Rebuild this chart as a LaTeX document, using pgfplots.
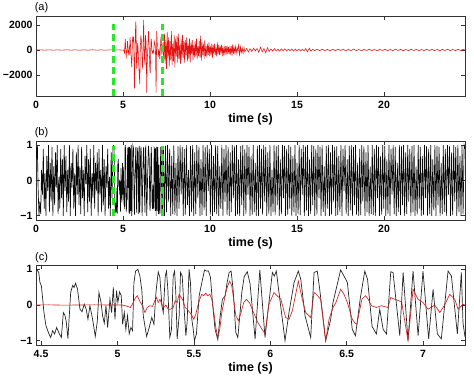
\documentclass[border=0pt]{standalone}
\usepackage{fontspec}
\setmainfont{Liberation Sans}
\usepackage{pgfplots}
\pgfplotsset{compat=1.18}
\usepackage{pgfplotstable}
\definecolor{sigred}{RGB}{228,20,20}
\definecolor{cred}{RGB}{205,35,35}
\definecolor{dgreen}{RGB}{40,230,40}
\definecolor{sigblk}{RGB}{10,10,10}

% panel (a): seismic record
\pgfplotstableread[row sep=\\]{t a\\
0 0\\ 0.25 12\\ 0.5 -10\\ 0.75 15\\ 1.0 -12\\ 1.25 10\\ 1.5 -15\\ 1.75 18\\ 2.0 -10\\ 2.25 12\\ 2.5 -18\\ 2.75 15\\ 3.0 -12\\ 3.25 20\\ 3.5 -15\\ 3.75 10\\ 4.0 -18\\ 4.25 15\\ 4.5 -10\\ 4.75 12\\ 5.0 -15\\ 5.03 0\\
5.06 -100\\ 5.085 -240\\ 5.10 140\\ 5.115 610\\ 5.13 880\\ 5.147 340\\ 5.164 -70\\ 5.180 -710\\ 5.195 -240\\ 5.212 -70\\ 5.230 -140\\ 5.245 410\\ 5.256 710\\ 5.267 240\\ 5.278 540\\ 5.291 70\\ 5.304 -240\\ 5.317 0\\ 5.332 -410\\ 5.347 -410\\ 5.365 -240\\ 5.378 410\\ 5.391 240\\ 5.404 1020\\ 5.417 710\\ 5.430 410\\ 5.443 -240\\ 5.456 -410\\ 5.474 -710\\ 5.487 -1020\\ 5.500 -1360\\ 5.513 -880\\ 5.526 -70\\ 5.539 540\\ 5.552 1020\\ 5.565 880\\ 5.578 1120\\ 5.591 880\\ 5.605 1020\\ 5.618 540\\ 5.631 -710\\ 5.644 -2140\\ 5.657 -3090\\ 5.670 -2310\\ 5.683 -710\\ 5.696 240\\ 5.709 1190\\ 5.722 1840\\ 5.735 2280\\ 5.748 1840\\ 5.761 540\\ 5.775 -1020\\ 5.792 -1500\\ 5.809 -710\\ 5.827 240\\ 5.844 540\\ 5.866 170\\ 5.885 -510\\ 5.92 -1700\\ 5.966 -2750\\ 5.99 0\\ 6.025 1190\\ 6.045 880\\ 6.07 540\\ 6.101 -1190\\ 6.123 -1360\\ 6.145 -540\\ 6.184 2380\\ 6.210 540\\ 6.232 -710\\ 6.265 -1190\\ 6.287 1190\\ 6.302 1020\\ 6.330 540\\ 6.363 -3400\\ 6.385 -1360\\ 6.411 -240\\ 6.430 240\\ 6.461 1500\\ 6.483 1020\\ 6.505 240\\ 6.537 -1360\\ 6.553 -1700\\ 6.567 -1840\\ 6.600 540\\ 6.624 880\\ 6.641 540\\ 6.663 -70\\ 6.695 -240\\ 6.728 -70\\ 6.770 -240\\ 6.789 710\\ 6.815 540\\ 6.860 310\\ 6.902 -3400\\ 6.935 1500\\ 6.968 540\\ 7.00 240\\ 7.033 -410\\ 7.077 0\\ 7.110 -710\\ 7.142 0\\ 7.175 1020\\ 7.208 540\\ 7.230 -410\\ 7.262 70\\ 7.275 0\\
7.30 600\\ 7.34 -900\\ 7.38 1300\\ 7.42 -1100\\ 7.46 800\\ 7.50 -1500\\ 7.54 1400\\ 7.58 -600\\ 7.62 1000\\ 7.66 -1300\\ 7.70 700\\ 7.74 -800\\ 7.78 1500\\ 7.82 -1200\\ 7.86 500\\ 7.90 -900\\ 7.94 1200\\ 7.98 -1400\\ 8.02 900\\ 8.06 -500\\ 8.10 1100\\ 8.14 -1000\\ 8.18 1300\\ 8.22 -700\\ 8.26 400\\ 8.30 -1100\\ 8.34 900\\ 8.38 -800\\ 8.42 1200\\ 8.46 -600\\ 8.50 700\\ 8.54 -1000\\ 8.58 800\\ 8.62 -400\\ 8.66 1000\\ 8.70 -900\\ 8.74 500\\ 8.78 -700\\ 8.82 900\\ 8.86 -1000\\ 8.90 600\\ 8.94 -300\\ 8.98 800\\ 9.02 -800\\ 9.06 400\\ 9.10 -600\\ 9.14 700\\ 9.18 -500\\ 9.22 900\\ 9.26 -700\\ 9.30 300\\ 9.34 -500\\ 9.38 700\\ 9.42 -600\\ 9.46 1150\\ 9.50 -850\\ 9.54 600\\ 9.58 -400\\ 9.62 500\\ 9.66 -700\\ 9.70 800\\ 9.74 -500\\ 9.78 300\\ 9.82 -600\\ 9.86 500\\ 9.90 -400\\ 9.94 600\\ 9.98 -500\\ 10.02 300\\ 10.06 -400\\ 10.10 500\\ 10.14 -600\\ 10.18 400\\ 10.22 -300\\ 10.26 500\\ 10.30 -400\\ 10.34 200\\ 10.38 -500\\ 10.42 600\\ 10.46 -300\\ 10.50 400\\ 10.54 -400\\ 10.58 300\\ 10.62 -200\\ 10.66 400\\ 10.70 -500\\ 10.74 300\\ 10.78 -300\\ 10.82 200\\ 10.86 -400\\ 10.90 300\\ 10.94 -200\\ 10.98 350\\ 11.02 -300\\ 11.06 250\\ 11.10 -350\\ 11.14 200\\ 11.18 -250\\ 11.22 300\\ 11.26 -450\\ 11.30 450\\ 11.34 -300\\ 11.38 200\\ 11.42 -200\\ 11.46 250\\ 11.50 -300\\ 11.55 200\\ 11.60 -150\\ 11.65 500\\ 11.70 -500\\ 11.75 250\\ 11.80 -200\\ 11.85 150\\ 11.90 -250\\ 11.95 200\\ 12.00 -150\\
12.1 120\\ 12.2 -160\\ 12.3 100\\ 12.4 -120\\ 12.5 150\\ 12.6 -80\\ 12.7 120\\ 12.8 -180\\ 12.9 220\\ 13.0 -150\\ 13.1 110\\ 13.2 -230\\ 13.3 180\\ 13.4 -110\\ 13.5 80\\ 13.6 -90\\ 13.7 110\\ 13.8 -80\\ 13.9 60\\ 14.0 -90\\ 14.1 80\\ 14.2 -60\\ 14.3 90\\ 14.4 -80\\ 14.5 60\\ 14.6 -50\\ 14.7 80\\ 14.8 -90\\ 14.9 70\\ 15.0 -60\\ 15.1 60\\ 15.2 -80\\ 15.3 50\\ 15.4 -70\\ 15.5 120\\ 15.6 -150\\ 15.7 140\\ 15.8 -90\\ 15.9 60\\ 16.0 -50\\
16.15 60\\ 16.3 -50\\ 16.45 70\\ 16.6 -60\\ 16.75 50\\ 16.9 -80\\ 17.05 60\\ 17.2 -50\\ 17.35 70\\ 17.5 -40\\ 17.65 60\\ 17.8 -70\\ 17.95 50\\ 18.1 -60\\ 18.25 80\\ 18.4 -50\\ 18.55 40\\ 18.7 -60\\ 18.85 50\\ 19.0 -40\\ 19.15 60\\ 19.3 -50\\ 19.45 40\\ 19.6 -70\\ 19.75 50\\ 19.9 -40\\ 20.05 60\\ 20.2 -50\\ 20.35 40\\ 20.5 -60\\ 20.65 70\\ 20.8 -40\\ 20.95 50\\ 21.1 -60\\ 21.25 40\\ 21.4 -50\\ 21.55 60\\ 21.7 -40\\ 21.85 50\\ 22.0 -60\\ 22.15 40\\ 22.3 -50\\ 22.45 60\\ 22.6 -40\\ 22.75 50\\ 22.9 -50\\ 23.05 40\\ 23.2 -60\\ 23.35 50\\ 23.5 -40\\ 23.65 60\\ 23.8 -50\\ 23.95 40\\ 24.1 -50\\ 24.25 60\\ 24.4 -40\\ 24.55 50\\ 24.65 0\\
}\tabA

% panel (b): before the window
\pgfplotstableread[row sep=\\]{t v\\
0 0.95\\ 0.04 0.6\\ 0.08 1.0\\ 0.12 -0.2\\ 0.17 -1.0\\ 0.22 -0.6\\ 0.27 -0.95\\ 0.32 0.3\\ 0.37 -0.4\\ 0.42 0.9\\ 0.47 -0.8\\ 0.52 0.2\\ 0.57 -1.0\\ 0.62 0.7\\ 0.67 -0.3\\ 0.72 1.0\\ 0.77 -0.9\\ 0.82 0.5\\ 0.87 -0.6\\ 0.92 0.95\\ 0.97 -1.0\\ 1.02 0.4\\ 1.07 -0.7\\ 1.12 0.8\\ 1.17 -0.2\\ 1.22 1.0\\ 1.27 -0.95\\ 1.32 0.1\\ 1.37 -0.8\\ 1.42 0.9\\ 1.47 -0.5\\ 1.52 0.6\\ 1.57 -1.0\\ 1.62 1.0\\ 1.67 -0.3\\ 1.72 0.7\\ 1.77 -0.9\\ 1.82 0.3\\ 1.87 -0.6\\ 1.92 1.0\\ 1.97 -1.0\\ 2.02 0.5\\ 2.07 -0.2\\ 2.12 0.9\\ 2.17 -0.8\\ 2.22 0.2\\ 2.27 -1.0\\ 2.32 0.8\\ 2.37 -0.4\\ 2.42 1.0\\ 2.47 -0.7\\ 2.52 0.4\\ 2.57 -0.95\\ 2.62 0.95\\ 2.67 -0.5\\ 2.72 0.3\\ 2.77 -1.0\\ 2.82 0.7\\ 2.87 -0.1\\ 2.92 1.0\\ 2.97 -0.9\\ 3.02 0.6\\ 3.07 -0.6\\ 3.12 0.9\\ 3.17 -1.0\\ 3.22 0.2\\ 3.27 -0.5\\ 3.32 1.0\\ 3.37 -0.8\\ 3.42 0.5\\ 3.47 -0.3\\ 3.52 0.8\\ 3.57 -1.0\\ 3.62 0.9\\ 3.67 -0.4\\ 3.72 0.3\\ 3.77 -0.9\\ 3.82 1.0\\ 3.87 -0.7\\ 3.92 0.6\\ 3.97 -1.0\\ 4.02 0.4\\ 4.07 -0.2\\ 4.12 0.9\\ 4.17 -0.8\\ 4.22 0.1\\ 4.27 -1.0\\ 4.32 0.8\\ 4.37 -0.5\\ 4.42 0.9\\ 4.467 1.0\\
}\tabBpre

% panel (c) black = panel (b) inside the window
\pgfplotstableread[row sep=\\]{t v\\
4.467 1.0\\ 4.471 1.0\\ 4.485 0.91\\ 4.493 0.63\\ 4.502 0.54\\ 4.511 0.16\\ 4.519 -0.21\\ 4.532 -0.58\\ 4.550 -0.79\\ 4.563 -0.91\\ 4.576 -0.72\\ 4.589 -0.81\\ 4.602 -0.63\\ 4.620 -0.81\\ 4.633 -0.91\\ 4.646 -0.21\\ 4.657 -0.30\\ 4.665 -0.47\\ 4.676 -0.94\\ 4.694 0.35\\ 4.707 0.55\\ 4.716 0.49\\ 4.726 0.61\\ 4.739 0.44\\ 4.755 -0.12\\ 4.768 -0.19\\ 4.783 0.02\\ 4.796 -0.12\\ 4.807 -0.40\\ 4.820 -0.02\\ 4.838 -0.41\\ 4.855 -0.88\\ 4.868 -0.47\\ 4.879 0.35\\ 4.892 0.09\\ 4.903 -0.30\\ 4.914 -0.51\\ 4.925 -0.02\\ 4.936 -0.63\\ 4.951 0.16\\ 4.962 -0.21\\ 4.973 0.49\\ 4.984 -0.40\\ 4.994 0.40\\ 5.003 0.07\\ 5.014 0.37\\ 5.025 0.26\\ 5.034 -0.54\\ 5.045 -0.21\\ 5.055 -0.68\\ 5.066 -0.30\\ 5.077 -0.81\\ 5.088 -0.63\\ 5.099 -0.72\\ 5.108 0.63\\ 5.119 0.95\\ 5.134 1.00\\ 5.147 0.81\\ 5.160 0.40\\ 5.169 -0.30\\ 5.191 -0.88\\ 5.208 -0.63\\ 5.225 -0.35\\ 5.239 -0.54\\ 5.252 0.35\\ 5.267 0.93\\ 5.278 0.77\\ 5.291 -0.02\\ 5.300 -0.21\\ 5.313 0.81\\ 5.321 0.95\\ 5.330 0.44\\ 5.343 -0.91\\ 5.354 -0.68\\ 5.365 0.81\\ 5.374 0.95\\ 5.382 0.35\\ 5.391 -0.95\\ 5.404 -0.30\\ 5.413 0.91\\ 5.424 0.81\\ 5.435 -0.02\\ 5.448 -0.86\\ 5.456 -0.49\\ 5.469 1.0\\ 5.478 0.63\\ 5.487 -0.40\\ 5.496 -0.68\\ 5.504 -1.0\\ 5.517 -0.81\\ 5.535 0.26\\ 5.557 0.72\\ 5.570 0.98\\ 5.583 0.95\\ 5.596 0.95\\ 5.609 0.77\\ 5.622 0.07\\ 5.639 -0.68\\ 5.657 -0.97\\ 5.670 -0.40\\ 5.687 0.16\\ 5.705 0.26\\ 5.718 0.63\\ 5.731 0.91\\ 5.744 0.95\\ 5.757 0.44\\ 5.775 -0.77\\ 5.788 -0.91\\ 5.801 -0.30\\ 5.814 0.35\\ 5.830 0.80\\ 5.850 0.93\\ 5.868 0.60\\ 5.901 -0.95\\ 5.932 0.98\\ 5.966 -0.91\\ 6.014 0.91\\ 6.027 0.81\\ 6.040 0.95\\ 6.097 -1.0\\ 6.123 -0.21\\ 6.156 0.63\\ 6.184 0.95\\ 6.200 0.72\\ 6.228 -0.30\\ 6.265 -0.91\\ 6.287 0.91\\ 6.308 0.95\\ 6.324 0.44\\ 6.363 -1.0\\ 6.396 -0.40\\ 6.411 0.07\\ 6.461 0.98\\ 6.483 0.81\\ 6.505 0.63\\ 6.537 -0.68\\ 6.558 -0.86\\ 6.590 0.2\\ 6.619 0.95\\ 6.637 0.72\\ 6.667 -0.6\\ 6.695 -0.81\\ 6.717 -0.12\\ 6.739 -0.68\\ 6.761 -0.81\\ 6.789 0.93\\ 6.804 0.91\\ 6.848 -0.86\\ 6.870 0.91\\ 6.902 -1.0\\ 6.935 0.95\\ 6.968 -0.86\\ 7.000 0.95\\ 7.037 -0.95\\ 7.066 0.44\\ 7.094 -0.81\\ 7.120 -0.95\\ 7.164 0.95\\ 7.186 0.81\\ 7.225 -0.81\\ 7.251 0.91\\ 7.262 -0.5\\ 7.275 -0.9\\
}\tabC

% panel (b): after the window
\pgfplotstableread[row sep=\\]{t v\\
7.275 -0.9\\ 7.32 0.95\\ 7.38 -1.0\\ 7.44 0.98\\ 7.50 -0.9\\ 7.56 1.0\\ 7.62 -0.6\\ 7.68 0.9\\ 7.74 -1.0\\ 7.80 0.7\\ 7.86 -0.95\\
7.92 1.0\\ 7.98 -0.98\\ 8.04 0.5\\ 8.10 -1.0\\ 8.16 0.97\\ 8.22 -0.8\\ 8.28 1.0\\ 8.34 -0.4\\ 8.40 0.95\\ 8.46 -1.0\\
8.52 0.9\\ 8.58 -0.97\\ 8.64 1.0\\ 8.70 -0.7\\ 8.76 0.3\\ 8.82 -1.0\\ 8.88 0.98\\ 8.94 -0.9\\ 9.00 1.0\\ 9.06 -1.0\\
9.12 0.8\\ 9.18 -0.95\\ 9.24 1.0\\ 9.30 -0.5\\ 9.36 0.96\\ 9.42 -1.0\\ 9.48 0.6\\ 9.54 -0.98\\ 9.60 1.0\\ 9.66 -0.85\\
9.72 0.95\\ 9.78 -1.0\\ 9.84 1.0\\ 9.90 -0.3\\ 9.96 0.9\\ 10.02 -0.97\\ 10.08 1.0\\ 10.14 -1.0\\ 10.20 0.7\\ 10.26 -0.9\\
10.32 1.0\\ 10.38 -0.95\\ 10.44 0.98\\ 10.50 -1.0\\ 10.56 0.4\\ 10.62 -0.8\\ 10.68 1.0\\ 10.74 -1.0\\ 10.80 0.9\\ 10.86 -0.6\\
10.92 1.0\\ 10.98 -0.98\\ 11.04 0.95\\ 11.10 -1.0\\ 11.16 0.8\\ 11.22 -0.9\\ 11.28 1.0\\ 11.34 -0.5\\ 11.40 0.97\\ 11.46 -1.0\\
11.52 1.0\\ 11.58 -0.96\\ 11.64 0.6\\ 11.70 -1.0\\ 11.76 0.98\\ 11.82 -0.7\\ 11.88 1.0\\ 11.94 -1.0\\ 12.00 0.9\\ 12.06 -0.95\\
12.12 1.0\\ 12.18 -0.4\\ 12.24 0.95\\ 12.30 -1.0\\ 12.36 0.7\\ 12.42 -0.98\\ 12.48 1.0\\ 12.54 -0.9\\ 12.60 0.5\\ 12.66 -1.0\\
12.72 0.98\\ 12.78 -1.0\\ 12.84 1.0\\ 12.90 -0.8\\ 12.96 0.9\\ 13.02 -0.97\\ 13.08 1.0\\ 13.14 -0.6\\ 13.20 0.95\\ 13.26 -1.0\\
13.32 0.8\\ 13.38 -0.95\\ 13.44 1.0\\ 13.50 -1.0\\ 13.56 0.3\\ 13.62 -0.9\\ 13.68 1.0\\ 13.74 -0.98\\ 13.80 0.97\\ 13.86 -0.7\\
13.92 1.0\\ 13.98 -1.0\\ 14.04 0.6\\ 14.10 -0.95\\ 14.16 1.0\\ 14.22 -0.5\\ 14.28 0.98\\ 14.34 -1.0\\ 14.40 0.9\\ 14.46 -0.97\\
14.52 1.0\\ 14.58 -0.8\\ 14.64 0.95\\ 14.70 -1.0\\ 14.76 0.7\\ 14.82 -0.9\\ 14.88 1.0\\ 14.94 -1.0\\ 15.00 0.5\\ 15.06 -0.96\\
15.12 1.0\\ 15.18 -0.98\\ 15.24 0.9\\ 15.30 -0.4\\ 15.36 1.0\\ 15.42 -1.0\\ 15.48 0.97\\ 15.54 -0.85\\ 15.60 1.0\\ 15.66 -1.0\\
15.72 0.6\\ 15.78 -0.95\\ 15.84 1.0\\ 15.90 -0.7\\ 15.96 0.98\\ 16.02 -1.0\\ 16.08 0.9\\ 16.14 -0.97\\ 16.20 1.0\\ 16.26 -0.5\\
16.32 0.95\\ 16.38 -1.0\\ 16.44 1.0\\ 16.50 -0.9\\ 16.56 0.4\\ 16.62 -1.0\\ 16.68 0.98\\ 16.74 -0.8\\ 16.80 1.0\\ 16.86 -1.0\\
16.92 0.8\\ 16.98 -0.96\\ 17.04 1.0\\ 17.10 -0.6\\ 17.16 0.95\\ 17.22 -1.0\\ 17.28 0.97\\ 17.34 -0.98\\ 17.40 0.7\\ 17.46 -0.9\\
17.52 1.0\\ 17.58 -1.0\\ 17.64 0.9\\ 17.70 -0.3\\ 17.76 1.0\\ 17.82 -0.95\\ 17.88 0.6\\ 17.94 -1.0\\ 18.00 0.98\\ 18.06 -0.85\\
18.12 1.0\\ 18.18 -1.0\\ 18.24 0.95\\ 18.30 -0.7\\ 18.36 1.0\\ 18.42 -0.97\\ 18.48 0.5\\ 18.54 -1.0\\ 18.60 0.9\\ 18.66 -0.98\\
18.72 1.0\\ 18.78 -0.6\\ 18.84 0.97\\ 18.90 -1.0\\ 18.96 0.8\\ 19.02 -0.9\\ 19.08 1.0\\ 19.14 -1.0\\ 19.20 0.4\\ 19.26 -0.95\\
19.32 1.0\\ 19.38 -0.98\\ 19.44 0.9\\ 19.50 -1.0\\ 19.56 1.0\\ 19.62 -0.5\\ 19.68 0.95\\ 19.74 -1.0\\ 19.80 0.7\\ 19.86 -0.97\\
19.92 1.0\\ 19.98 -0.8\\ 20.04 0.98\\ 20.10 -1.0\\ 20.16 0.6\\ 20.22 -0.95\\ 20.28 1.0\\ 20.34 -1.0\\ 20.40 0.9\\ 20.46 -0.4\\
20.52 1.0\\ 20.58 -0.96\\ 20.64 0.95\\ 20.70 -1.0\\ 20.76 0.5\\ 20.82 -0.9\\ 20.88 1.0\\ 20.94 -0.98\\ 21.00 0.97\\ 21.06 -0.7\\
21.12 1.0\\ 21.18 -1.0\\ 21.24 0.8\\ 21.30 -0.95\\ 21.36 1.0\\ 21.42 -0.6\\ 21.48 0.9\\ 21.54 -1.0\\ 21.60 0.98\\ 21.66 -0.9\\
21.72 1.0\\ 21.78 -1.0\\ 21.84 0.4\\ 21.90 -0.97\\ 21.96 1.0\\ 22.02 -0.8\\ 22.08 0.95\\ 22.14 -1.0\\ 22.20 0.7\\ 22.26 -0.98\\
22.32 1.0\\ 22.38 -0.5\\ 22.44 0.97\\ 22.50 -1.0\\ 22.56 0.9\\ 22.62 -0.95\\ 22.68 1.0\\ 22.74 -1.0\\ 22.80 0.6\\ 22.86 -0.85\\
22.92 1.0\\ 22.98 -1.0\\ 23.04 0.98\\ 23.10 -0.7\\ 23.16 0.95\\ 23.22 -1.0\\ 23.28 0.5\\ 23.34 -0.96\\ 23.40 1.0\\ 23.46 -0.9\\
23.52 0.9\\ 23.58 -1.0\\ 23.64 1.0\\ 23.70 -0.4\\ 23.76 0.97\\ 23.82 -1.0\\ 23.88 0.8\\ 23.94 -0.98\\ 24.00 1.0\\ 24.06 -0.6\\
24.12 0.95\\ 24.18 -1.0\\ 24.24 1.0\\ 24.30 -0.9\\ 24.36 0.7\\ 24.42 -1.0\\ 24.48 0.98\\ 24.54 -0.95\\ 24.60 1.0\\ 24.65 0.9\\
}\tabBpost

% panel (c) red: normalised record in the window
\pgfplotstableread[row sep=\\]{t v\\
4.467 0.0\\ 4.55 0.005\\ 4.65 -0.005\\ 4.75 0.0\\ 4.85 0.005\\ 4.95 0.0\\ 5.03 0.0\\ 5.06 -0.03\\ 5.085 -0.07\\ 5.10 0.04\\ 5.115 0.18\\ 5.13 0.26\\ 5.147 0.10\\ 5.164 -0.02\\ 5.180 -0.21\\ 5.195 -0.07\\ 5.212 -0.02\\ 5.230 -0.04\\ 5.245 0.12\\ 5.256 0.21\\ 5.267 0.07\\ 5.278 0.16\\ 5.291 0.02\\ 5.304 -0.07\\ 5.317 0.0\\ 5.332 -0.12\\ 5.347 -0.12\\ 5.365 -0.07\\ 5.378 0.12\\ 5.391 0.07\\ 5.404 0.30\\ 5.417 0.21\\ 5.430 0.12\\ 5.443 -0.07\\ 5.456 -0.12\\ 5.474 -0.21\\ 5.487 -0.30\\ 5.500 -0.40\\ 5.513 -0.26\\ 5.526 -0.02\\ 5.539 0.16\\ 5.552 0.30\\ 5.565 0.26\\ 5.578 0.33\\ 5.591 0.26\\ 5.605 0.30\\ 5.618 0.16\\ 5.631 -0.21\\ 5.644 -0.63\\ 5.657 -0.91\\ 5.670 -0.68\\ 5.683 -0.21\\ 5.696 0.07\\ 5.709 0.35\\ 5.722 0.54\\ 5.735 0.67\\ 5.748 0.54\\ 5.761 0.16\\ 5.775 -0.30\\ 5.792 -0.44\\ 5.809 -0.21\\ 5.827 0.07\\ 5.844 0.16\\ 5.866 0.05\\ 5.885 -0.15\\ 5.92 -0.5\\ 5.966 -0.81\\ 5.99 0.0\\ 6.025 0.35\\ 6.045 0.26\\ 6.07 0.16\\ 6.101 -0.35\\ 6.123 -0.40\\ 6.145 -0.16\\ 6.184 0.67\\ 6.210 0.16\\ 6.232 -0.21\\ 6.265 -0.35\\ 6.287 0.35\\ 6.302 0.30\\ 6.330 0.16\\ 6.363 -1.0\\ 6.385 -0.40\\ 6.411 -0.07\\ 6.430 0.07\\ 6.461 0.44\\ 6.483 0.30\\ 6.505 0.07\\ 6.537 -0.40\\ 6.553 -0.50\\ 6.567 -0.54\\ 6.600 0.16\\ 6.624 0.26\\ 6.641 0.16\\ 6.663 -0.02\\ 6.695 -0.07\\ 6.728 -0.02\\ 6.770 -0.07\\ 6.789 0.21\\ 6.815 0.16\\ 6.860 0.09\\ 6.902 -1.0\\ 6.935 0.44\\ 6.968 0.16\\ 7.00 0.07\\ 7.033 -0.12\\ 7.077 0.0\\ 7.110 -0.21\\ 7.142 0.0\\ 7.175 0.30\\ 7.208 0.16\\ 7.230 -0.12\\ 7.262 0.02\\ 7.275 0.0\\
}\tabCred

\pgfplotsset{panel/.style={
  scale only axis, width=429pt,
  axis line style={black!80, line width=0.7pt},
  tick align=inside, major tick length=4pt,
  tick style={black!80, line width=0.6pt},
  xtick pos=both, ytick pos=both,
  tick label style={font=\fontsize{10.5}{12}\selectfont\bfseries},
  xticklabel style={yshift=-2pt},
  xlabel={time (s)},
  xlabel style={font=\fontsize{12.5}{14}\selectfont\bfseries, at={(axis description cs:0.5,0)}, anchor=center, yshift=-23.5pt},
  scaled ticks=false,
}}

\begin{document}
\begin{tikzpicture}
\path[use as bounding box] (0,0) rectangle (474pt,380pt);

% (a)
\begin{axis}[panel, at={(36pt,284pt)}, anchor=south west, height=80pt,
  xmin=0, xmax=24.65, ymin=-3680, ymax=2720,
  xtick={0,5,10,15,20}, xticklabels={0,5,10,15,20},
  ytick={-2000,0,2000}, yticklabels={−2000,0,2000}]
\addplot[sigred, line width=0.55pt] table[x=t, y=a] {\tabA};
\addplot[dgreen, line width=2.6pt, dash pattern=on 7pt off 4pt] coordinates {(4.46,-3680) (4.46,2100)};
\addplot[dgreen, line width=2.6pt, dash pattern=on 7pt off 4pt] coordinates {(7.27,-3680) (7.27,2100)};
\end{axis}

% (b)
\begin{axis}[panel, at={(36pt,160pt)}, anchor=south west, height=79pt,
  xmin=0, xmax=24.65, ymin=-1.12, ymax=1.12,
  xtick={0,5,10,15,20}, xticklabels={0,5,10,15,20},
  ytick={-1,0,1}, yticklabels={−1,0,1}]
\addplot[sigblk, line width=0.65pt] table[x=t, y=v] {\tabBpre};
\addplot[sigblk, line width=0.65pt] table[x=t, y=v] {\tabC};
\addplot[sigblk, line width=0.65pt] table[x=t, y=v] {\tabBpost};
\addplot[dgreen, line width=2.6pt, dash pattern=on 7pt off 4pt] coordinates {(4.46,-1.02) (4.46,0.98)};
\addplot[dgreen, line width=2.6pt, dash pattern=on 7pt off 4pt] coordinates {(7.27,-1.02) (7.27,0.98)};
\end{axis}

% (c)
\begin{axis}[panel, at={(36pt,35pt)}, anchor=south west, height=80pt,
  xmin=4.467, xmax=7.275, ymin=-1.12, ymax=1.12,
  xtick={4.5,5,5.5,6,6.5,7}, xticklabels={4.5,5,5.5,6,6.5,7},
  ytick={-1,0,1}, yticklabels={−1,0,1}]
\addplot[black!85, line width=0.7pt] table[x=t, y=v] {\tabC};
\addplot[cred, line width=0.65pt] table[x=t, y=v] {\tabCred};
\end{axis}

\node[font=\fontsize{11}{13}\selectfont] at (41.5pt,372pt) {(a)};
\node[font=\fontsize{11}{13}\selectfont] at (41.5pt,247pt) {(b)};
\node[font=\fontsize{11}{13}\selectfont] at (41.5pt,122pt) {(c)};
\end{tikzpicture}
\end{document}
